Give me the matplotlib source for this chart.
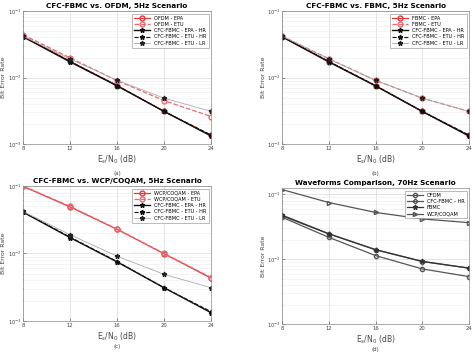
import matplotlib
matplotlib.use("Agg")
import matplotlib.pyplot as plt
import numpy as np

snr = [8, 12, 16, 20, 24]

# 5Hz scenario (a, b, c)
ofdm_epa = [0.042, 0.0176, 0.0076, 0.0031, 0.00135]
ofdm_etu = [0.044, 0.0198, 0.0090, 0.0045, 0.0026]
fbmc_epa = [0.041, 0.0174, 0.0075, 0.0031, 0.00135]
fbmc_etu = [0.042, 0.0192, 0.0091, 0.0049, 0.0031]
wcp_epa = [0.099, 0.049, 0.0228, 0.0099, 0.0043]
wcp_etu = [0.100, 0.050, 0.0230, 0.0100, 0.0044]
cfc_epa_hr = [0.041, 0.0172, 0.0075, 0.0031, 0.00132]
cfc_etu_hr = [0.0415, 0.0175, 0.0076, 0.0031, 0.00137]
cfc_etu_lr = [0.042, 0.0190, 0.0091, 0.0049, 0.0031]

# 70Hz scenario (d)
ofdm_70 = [0.0445, 0.0218, 0.0114, 0.0071, 0.0054]
cfc_hr_70 = [0.0466, 0.0246, 0.0140, 0.0092, 0.0073]
fbmc_70 = [0.0480, 0.0248, 0.0141, 0.0093, 0.0073]
wcp_70 = [0.119, 0.075, 0.0528, 0.0419, 0.0367]

RED = "#e0393e"
PINK = "#e86a6e"
GRID = "#d9d9d9"
TXT = "#444444"

fig = plt.figure(figsize=(4.74, 3.55), dpi=100)
plt.rcParams["font.family"] = "DejaVu Sans"

positions = [
    [0.0485, 0.594, 0.397, 0.375],
    [0.595, 0.594, 0.3945, 0.375],
    [0.0485, 0.096, 0.397, 0.380],
    [0.595, 0.087, 0.3945, 0.383],
]
titles = [
    "CFC-FBMC vs. OFDM, 5Hz Scenario",
    "CFC-FBMC vs. FBMC, 5Hz Scenario",
    "CFC-FBMC vs. WCP/COQAM, 5Hz Scenario",
    "Waveforms Comparison, 70Hz Scenario",
]
captions = ["(a)", "(b)", "(c)", "(d)"]


def cfc_lines(ax):
    ax.plot(snr, cfc_epa_hr, "-", color="#111111", lw=1.0, marker="*", ms=3.5,
            label="CFC-FBMC - EPA - HR")
    ax.plot(snr, cfc_etu_hr, "--", color="#111111", lw=0.8, marker="*", ms=3.5,
            label="CFC-FBMC - ETU - HR")
    ax.plot(snr, cfc_etu_lr, "-", color="#aaaaaa", lw=0.6, marker="*", ms=3.5,
            mfc="#222222", mec="#222222", label="CFC-FBMC - ETU - LR")


def red_lines(ax, epa, etu, name):
    ax.plot(snr, epa, "-", color=RED, lw=0.9, marker="o", ms=3.5, mfc="none",
            label=name + " - EPA")
    ax.plot(snr, etu, "--", color=PINK, lw=0.9, marker="o", ms=3.5, mfc="none",
            label=name + " - ETU")


axes = []
for i in range(4):
    ax = fig.add_axes(positions[i])
    axes.append(ax)

red_lines(axes[0], ofdm_epa, ofdm_etu, "OFDM")
cfc_lines(axes[0])
red_lines(axes[1], fbmc_epa, fbmc_etu, "FBMC")
cfc_lines(axes[1])
red_lines(axes[2], wcp_epa, wcp_etu, "WCP/COQAM")
cfc_lines(axes[2])

ax = axes[3]
dk = "#555555"
ax.plot(snr, ofdm_70, "-", color=dk, lw=0.9, marker="o", ms=3, mfc="none", label="OFDM")
ax.plot(snr, cfc_hr_70, "-", color=dk, lw=0.9, marker="D", ms=2.5, mfc="none", label="CFC-FBMC - HR")
ax.plot(snr, fbmc_70, "-", color="#333333", lw=0.9, marker="*", ms=3.5, label="FBMC")
ax.plot(snr, wcp_70, "-", color=dk, lw=0.9, marker=">", ms=3, mfc="none", label="WCP/COQAM")

for i, ax in enumerate(axes):
    ax.set_yscale("log")
    ax.set_xlim(8, 24)
    ax.set_ylim(1e-3, 0.125 if i == 3 else 1e-1)
    ax.set_xticks(snr)
    ax.set_xticklabels([str(s) for s in snr])
    ax.grid(True, which="major", color=GRID, lw=0.5)
    ax.grid(True, which="minor", axis="y", color="#ececec", lw=0.4)
    ax.tick_params(labelsize=3.8, colors=TXT, length=2, width=0.4, pad=1.5, direction="in")
    ax.tick_params(axis="y", pad=1)
    ax.tick_params(which="minor", length=1, width=0.3, direction="in")
    for s in ax.spines.values():
        s.set_color("#888888")
        s.set_linewidth(0.5)
    ax.set_title(titles[i], fontsize=5.2, fontweight="bold", pad=2)
    ax.set_xlabel("E$_s$/N$_0$ (dB)", fontsize=5.5, color=TXT, labelpad=2)
    ax.set_ylabel("Bit Error Rate", fontsize=4.4, color=TXT)
    ax.yaxis.set_label_coords(-0.088, 0.5)
    ax.text(0.5, -0.2 if i < 2 else -0.17, captions[i], transform=ax.transAxes,
            fontsize=4, ha="center", va="top", color=TXT)
    leg = ax.legend(loc="upper right", fontsize=3.6, handlelength=3.2,
                    borderpad=0.4, labelspacing=0.25, fancybox=False,
                    edgecolor="#888888", framealpha=1)
    leg.get_frame().set_linewidth(0.4)

fig.savefig("out.png", dpi=100)
